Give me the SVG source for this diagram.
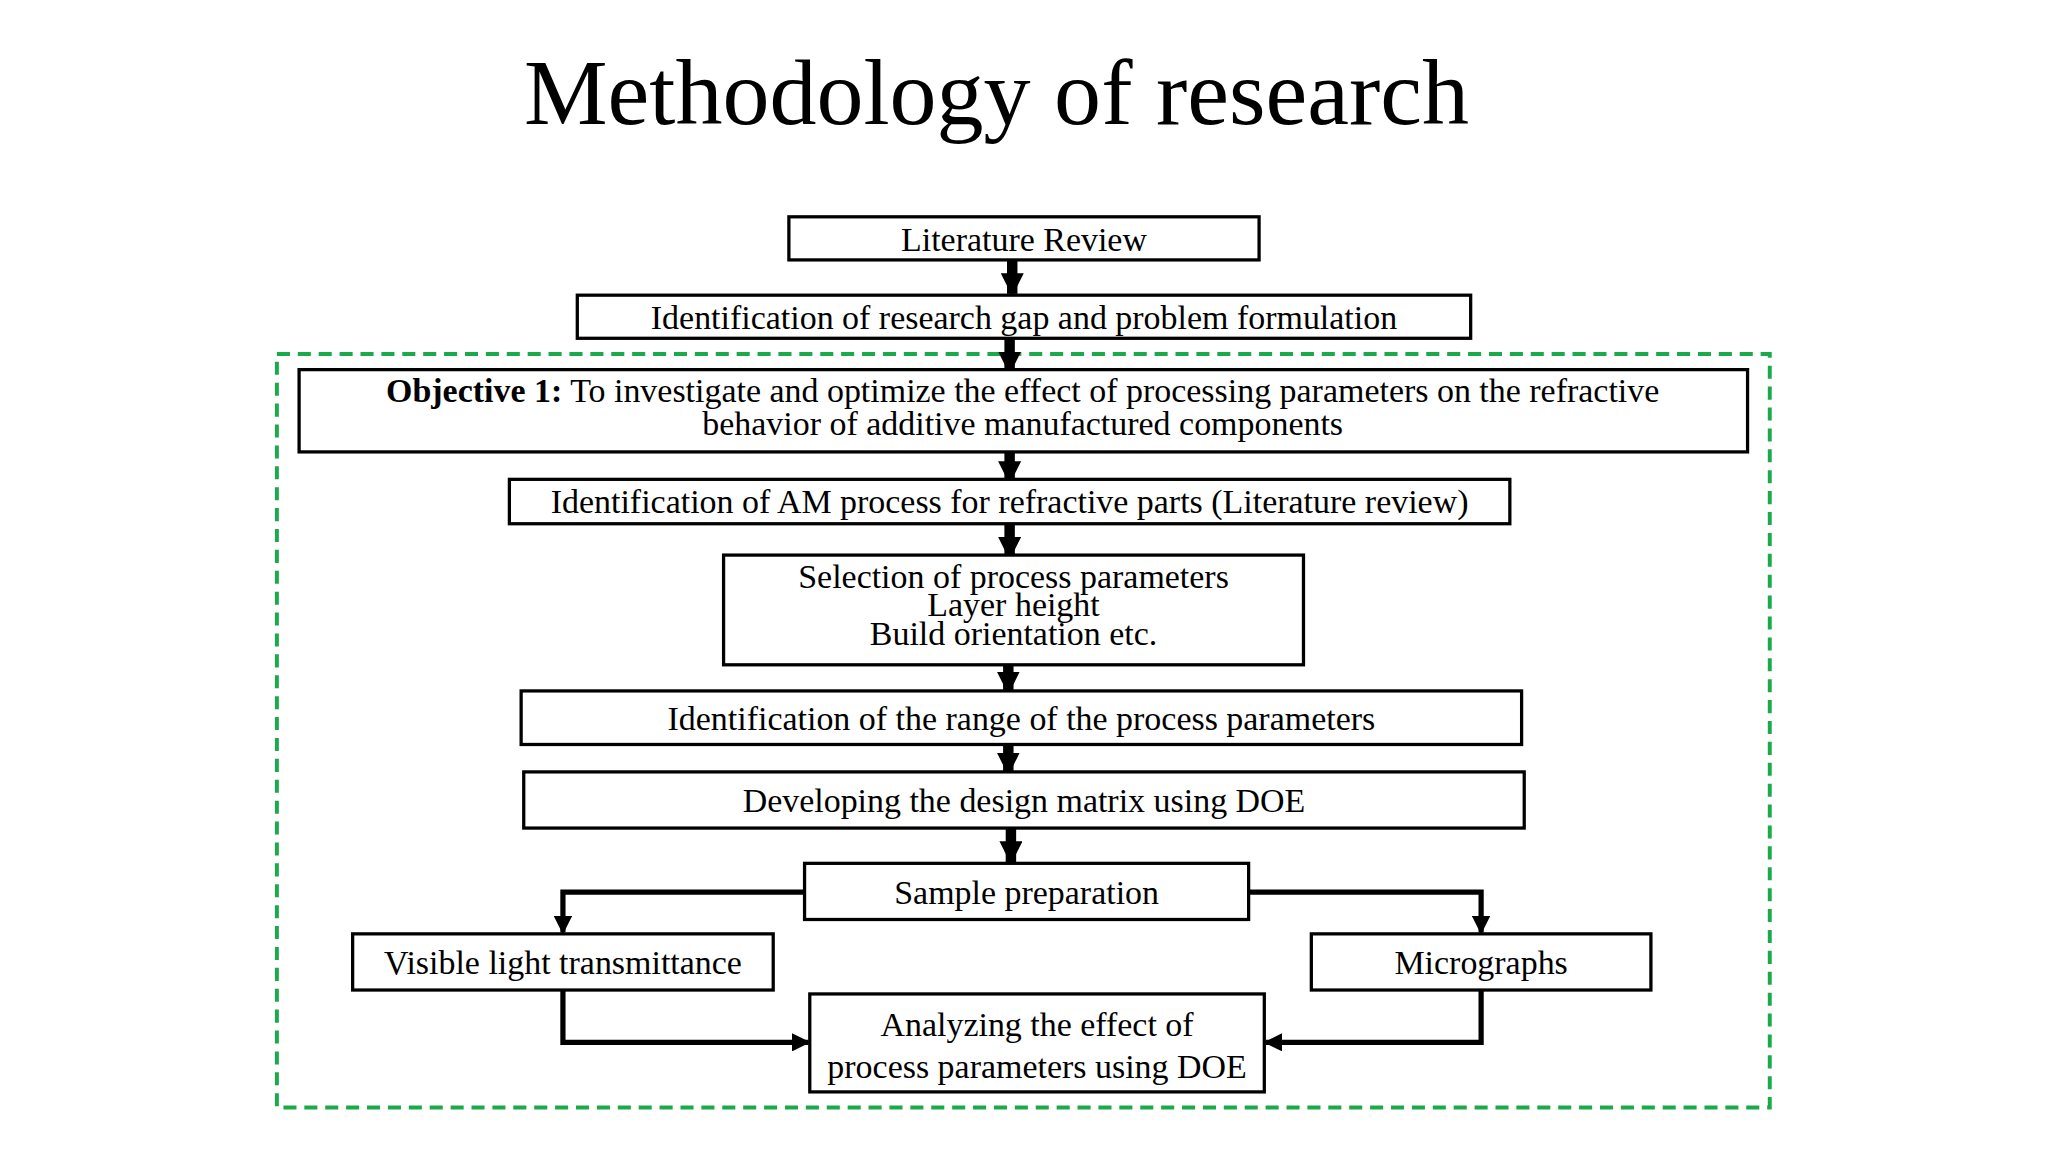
<svg xmlns="http://www.w3.org/2000/svg" width="2048" height="1152" viewBox="0 0 2048 1152">
<style>
.b{fill:#fff;stroke:#000;stroke-width:2.5}
text{font-family:"Liberation Serif",serif;font-size:26px;text-anchor:middle;fill:#000}
.c{fill:none;stroke:#000;stroke-width:4}
</style>
<defs>
<marker id="h" viewBox="0 0 10 10" refX="9" refY="5" markerWidth="3.5" markerHeight="3.5" orient="auto" markerUnits="strokeWidth"><path d="M0,0L10,5L0,10z"/></marker>
<marker id="h2" viewBox="0 0 10 10" refX="9" refY="5" markerWidth="2.2" markerHeight="2.2" orient="auto" markerUnits="strokeWidth"><path d="M0,0L10,5L0,10z"/></marker>
</defs>
<rect width="2048" height="1152" fill="#fff"/>
<g transform="scale(1.3061)">
<text x="763" y="95" style="font-size:72px">Methodology of research</text>
<rect id="frame" x="212" y="271" width="1143" height="577" fill="none" stroke="#1aaa4a" stroke-width="3" stroke-dasharray="10,6"/>
<g id="connectors">
<path class="c" style="stroke-width:8" marker-end="url(#h2)" d="M775,199V225"/>
<path class="c" style="stroke-width:8" marker-end="url(#h2)" d="M773,259V285"/>
<path class="c" style="stroke-width:8" marker-end="url(#h2)" d="M773,346V369"/>
<path class="c" style="stroke-width:8" marker-end="url(#h2)" d="M773,401V427"/>
<path class="c" style="stroke-width:8" marker-end="url(#h2)" d="M772,509V530"/>
<path class="c" style="stroke-width:8" marker-end="url(#h2)" d="M772,570V592"/>
<path class="c" style="stroke-width:8" marker-end="url(#h2)" d="M774,634V660"/>
<path class="c" marker-end="url(#h)" d="M616,683H431V714"/>
<path class="c" marker-end="url(#h)" d="M956,683H1134V714"/>
<path class="c" marker-end="url(#h)" d="M431,758V798H619"/>
<path class="c" marker-end="url(#h)" d="M1134,758V798H969"/>
</g>
<g id="n1"><rect class="b" x="604" y="166" width="360" height="33"/><text x="784" y="192">Literature Review</text></g>
<g id="n2"><rect class="b" x="442" y="226" width="684" height="33"/><text x="784" y="252">Identification of research gap and problem formulation</text></g>
<g id="n3"><rect class="b" x="229" y="283" width="1109" height="63"/><text x="783" y="308"><tspan font-weight="bold">Objective 1:</tspan> To investigate and optimize the effect of processing parameters on the refractive</text><text x="783" y="333">behavior of additive manufactured components</text></g>
<g id="n4"><rect class="b" x="390" y="367" width="766" height="34"/><text x="773" y="393">Identification of AM process for refractive parts (Literature review)</text></g>
<g id="n5"><rect class="b" x="554" y="425" width="444" height="84"/><text x="776" y="450">Selection of process parameters</text><text x="776" y="472">Layer height</text><text x="776" y="494">Build orientation etc.</text></g>
<g id="n6"><rect class="b" x="399" y="529" width="766" height="41"/><text x="782" y="559">Identification of the range of the process parameters</text></g>
<g id="n7"><rect class="b" x="401" y="591" width="766" height="43"/><text x="784" y="622">Developing the design matrix using DOE</text></g>
<g id="n8"><rect class="b" x="616" y="661" width="340" height="43"/><text x="786" y="692">Sample preparation</text></g>
<g id="n9"><rect class="b" x="270" y="715" width="322" height="43"/><text x="431" y="746">Visible light transmittance</text></g>
<g id="n10"><rect class="b" x="1004" y="715" width="260" height="43"/><text x="1134" y="746">Micrographs</text></g>
<g id="n11"><rect class="b" x="620" y="761" width="348" height="75"/><text x="794" y="793">Analyzing the effect of</text><text x="794" y="825">process parameters using DOE</text></g>
</g>
</svg>
